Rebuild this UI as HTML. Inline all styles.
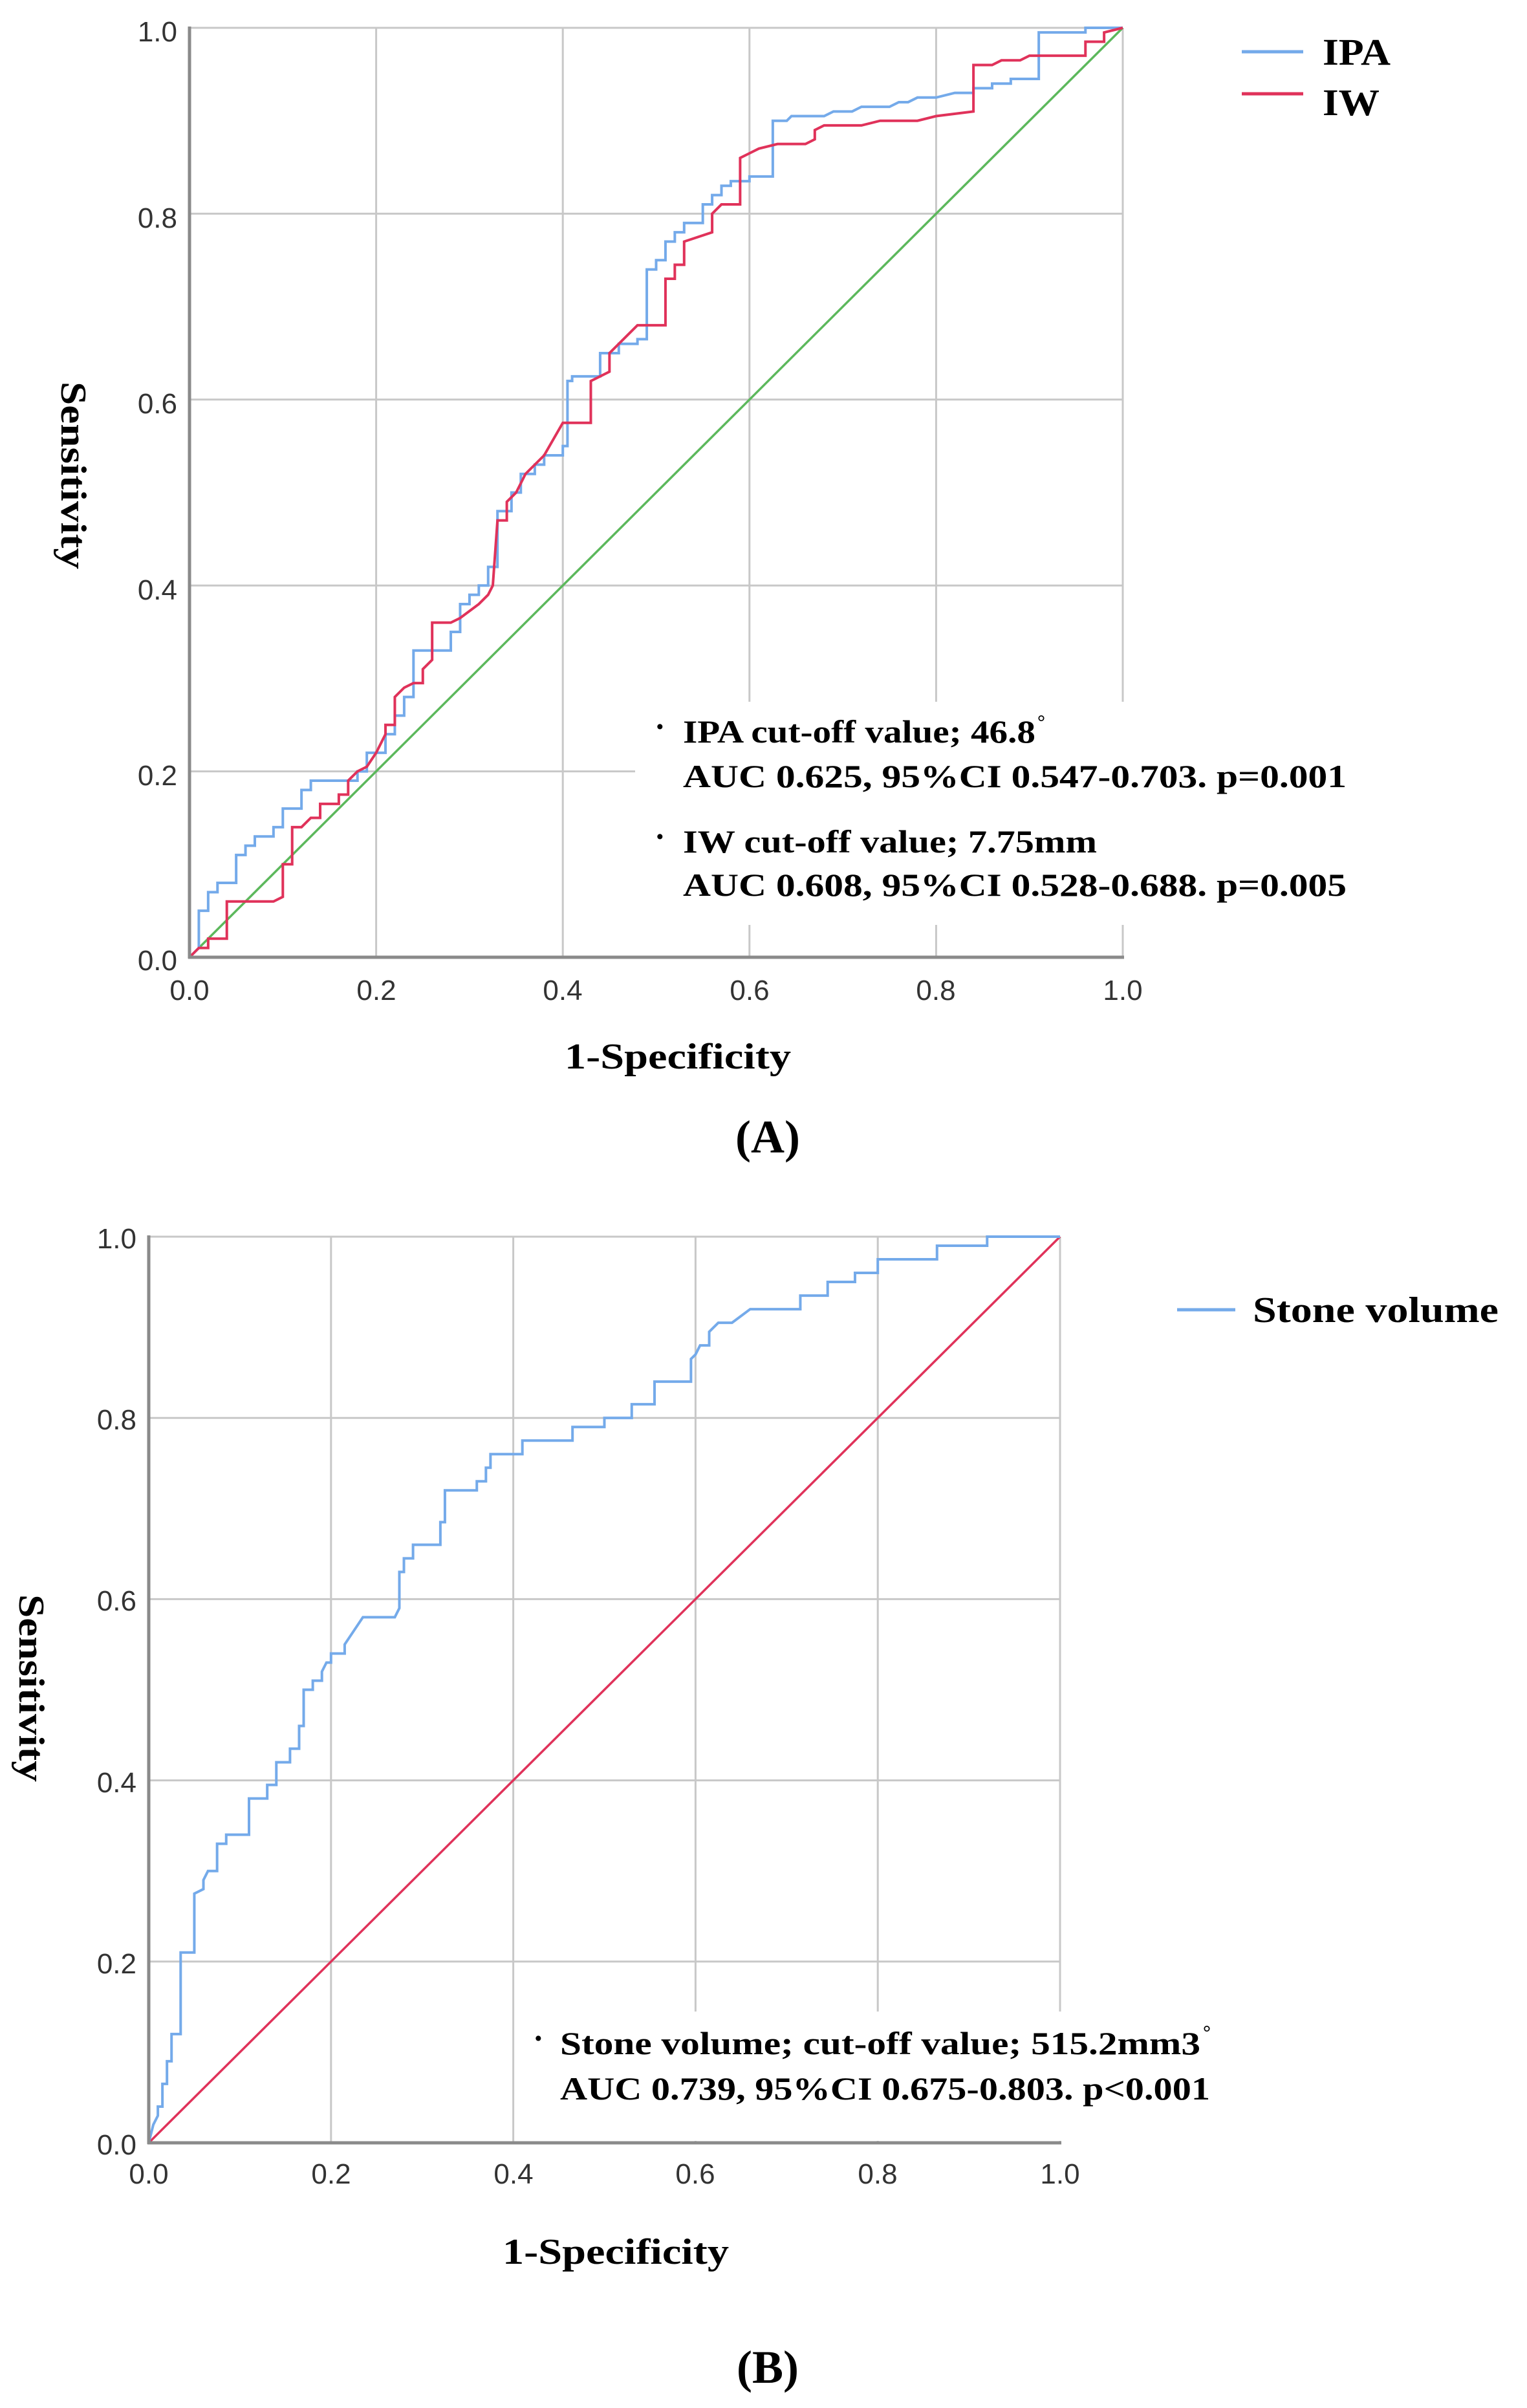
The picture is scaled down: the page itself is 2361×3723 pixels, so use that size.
<!DOCTYPE html>
<html><head><meta charset="utf-8"><style>
html,body{margin:0;padding:0;background:#fff;}
svg{display:block;}
.t{font-family:"Liberation Sans",sans-serif;font-size:44px;fill:#333;}
.s{font-family:"Liberation Serif",serif;font-weight:bold;fill:#000;}
</style></head><body>
<svg width="2361" height="3723" viewBox="0 0 2361 3723" xmlns="http://www.w3.org/2000/svg">
<rect width="2361" height="3723" fill="#fff"/>

<!-- ============ PLOT A ============ -->
<g transform="translate(293,1480) scale(1443,-1437)" fill="none">
  <g stroke="#c8c8c8" stroke-width="3">
    <line x1="0.2" y1="0" x2="0.2" y2="1" vector-effect="non-scaling-stroke"/>
    <line x1="0.4" y1="0" x2="0.4" y2="1" vector-effect="non-scaling-stroke"/>
    <line x1="0.6" y1="0" x2="0.6" y2="1" vector-effect="non-scaling-stroke"/>
    <line x1="0.8" y1="0" x2="0.8" y2="1" vector-effect="non-scaling-stroke"/>
    <line x1="1" y1="0" x2="1" y2="1" vector-effect="non-scaling-stroke"/>
    <line x1="0" y1="0.2" x2="1" y2="0.2" vector-effect="non-scaling-stroke"/>
    <line x1="0" y1="0.4" x2="1" y2="0.4" vector-effect="non-scaling-stroke"/>
    <line x1="0" y1="0.6" x2="1" y2="0.6" vector-effect="non-scaling-stroke"/>
    <line x1="0" y1="0.8" x2="1" y2="0.8" vector-effect="non-scaling-stroke"/>
    <line x1="0" y1="1" x2="1" y2="1" vector-effect="non-scaling-stroke"/>
  </g>
  <polyline stroke="#5cb85c" stroke-width="3.5" vector-effect="non-scaling-stroke" points="0,0 1,1"/>
  <polyline stroke="#74aaea" stroke-width="4" vector-effect="non-scaling-stroke" points="0,0 0.01,0.01 0.01,0.05 0.02,0.05 0.02,0.07 0.03,0.07 0.03,0.08 0.05,0.08 0.05,0.11 0.06,0.11 0.06,0.12 0.07,0.12 0.07,0.13 0.09,0.13 0.09,0.14 0.10,0.14 0.10,0.16 0.12,0.16 0.12,0.18 0.13,0.18 0.13,0.19 0.18,0.19 0.18,0.20 0.19,0.20 0.19,0.22 0.21,0.22 0.21,0.24 0.22,0.24 0.22,0.26 0.23,0.26 0.23,0.28 0.24,0.28 0.24,0.33 0.28,0.33 0.28,0.35 0.29,0.35 0.29,0.38 0.30,0.38 0.30,0.39 0.31,0.39 0.31,0.40 0.32,0.40 0.32,0.42 0.33,0.42 0.33,0.48 0.345,0.48 0.345,0.50 0.355,0.50 0.355,0.52 0.37,0.52 0.37,0.53 0.38,0.53 0.38,0.54 0.40,0.54 0.40,0.55 0.405,0.55 0.405,0.62 0.41,0.62 0.41,0.625 0.44,0.625 0.44,0.65 0.46,0.65 0.46,0.66 0.48,0.66 0.48,0.665 0.49,0.665 0.49,0.74 0.50,0.74 0.50,0.75 0.51,0.75 0.51,0.77 0.52,0.77 0.52,0.78 0.53,0.78 0.53,0.79 0.55,0.79 0.55,0.81 0.56,0.81 0.56,0.82 0.57,0.82 0.57,0.83 0.58,0.83 0.58,0.835 0.60,0.835 0.60,0.84 0.625,0.84 0.625,0.90 0.64,0.90 0.645,0.905 0.68,0.905 0.69,0.91 0.71,0.91 0.72,0.915 0.75,0.915 0.76,0.92 0.77,0.92 0.78,0.925 0.80,0.925 0.82,0.93 0.84,0.93 0.84,0.935 0.86,0.935 0.86,0.94 0.88,0.94 0.88,0.945 0.91,0.945 0.91,0.995 0.96,0.995 0.96,1 1,1"/>
  <polyline stroke="#e0325a" stroke-width="4" vector-effect="non-scaling-stroke" points="0,0 0.01,0.01 0.02,0.01 0.02,0.02 0.04,0.02 0.04,0.06 0.09,0.06 0.10,0.065 0.10,0.10 0.11,0.10 0.11,0.14 0.12,0.14 0.13,0.15 0.14,0.15 0.14,0.165 0.16,0.165 0.16,0.175 0.17,0.175 0.17,0.19 0.18,0.20 0.19,0.205 0.20,0.22 0.21,0.24 0.21,0.25 0.22,0.25 0.22,0.28 0.23,0.29 0.24,0.295 0.25,0.295 0.25,0.31 0.26,0.32 0.26,0.36 0.28,0.36 0.29,0.365 0.31,0.38 0.32,0.39 0.325,0.40 0.33,0.47 0.34,0.47 0.34,0.49 0.35,0.50 0.36,0.52 0.38,0.54 0.40,0.575 0.43,0.575 0.43,0.62 0.45,0.63 0.45,0.65 0.48,0.68 0.51,0.68 0.51,0.73 0.52,0.73 0.52,0.745 0.53,0.745 0.53,0.77 0.56,0.78 0.56,0.80 0.57,0.81 0.59,0.81 0.59,0.86 0.60,0.865 0.61,0.87 0.63,0.875 0.66,0.875 0.67,0.88 0.67,0.89 0.68,0.895 0.72,0.895 0.74,0.9 0.78,0.9 0.80,0.905 0.84,0.91 0.84,0.96 0.86,0.96 0.87,0.965 0.89,0.965 0.90,0.97 0.96,0.97 0.96,0.985 0.98,0.985 0.98,0.995 1,1"/>
</g>
<rect x="982" y="1085" width="800" height="345" fill="#fff"/>
<line x1="293" y1="41" x2="293" y2="1482" stroke="#8a8a8a" stroke-width="5"/>
<line x1="291" y1="1480" x2="1738" y2="1480" stroke="#8a8a8a" stroke-width="5"/>
<g class="t" text-anchor="end">
  <text x="274" y="64">1.0</text>
  <text x="274" y="352">0.8</text>
  <text x="274" y="639">0.6</text>
  <text x="274" y="927">0.4</text>
  <text x="274" y="1214">0.2</text>
  <text x="274" y="1500">0.0</text>
</g>
<g class="t" text-anchor="middle">
  <text x="293" y="1546">0.0</text>
  <text x="582" y="1546">0.2</text>
  <text x="870" y="1546">0.4</text>
  <text x="1159" y="1546">0.6</text>
  <text x="1447" y="1546">0.8</text>
  <text x="1736" y="1546">1.0</text>
</g>
<line x1="1920" y1="80" x2="2015" y2="80" stroke="#74aaea" stroke-width="5"/>
<line x1="1920" y1="145" x2="2015" y2="145" stroke="#e0325a" stroke-width="5"/>
<text class="s" x="2045" y="100" font-size="58" textLength="105" lengthAdjust="spacingAndGlyphs">IPA</text>
<text class="s" x="2045" y="178" font-size="58" textLength="88" lengthAdjust="spacingAndGlyphs">IW</text>
<g class="s" font-size="50">
  <text x="1012" y="1140">·</text>
  <text x="1056" y="1148" textLength="545" lengthAdjust="spacingAndGlyphs">IPA cut-off value; 46.8</text>
  <text x="1604" y="1126" font-size="30">°</text>
  <text x="1056" y="1217" textLength="1026" lengthAdjust="spacingAndGlyphs">AUC 0.625, 95%CI 0.547-0.703. p=0.001</text>
  <text x="1012" y="1310">·</text>
  <text x="1056" y="1318" textLength="640" lengthAdjust="spacingAndGlyphs">IW  cut-off value; 7.75mm</text>
  <text x="1056" y="1385" textLength="1026" lengthAdjust="spacingAndGlyphs">AUC 0.608, 95%CI 0.528-0.688. p=0.005</text>
</g>
<text class="s" x="1048" y="1652" font-size="56" text-anchor="middle" textLength="350" lengthAdjust="spacingAndGlyphs">1-Specificity</text>
<text class="s" font-size="56" text-anchor="middle" transform="translate(95,735) rotate(90)" textLength="290" lengthAdjust="spacingAndGlyphs">Sensitivity</text>
<text class="s" x="1187" y="1782" font-size="72" text-anchor="middle">(A)</text>

<!-- ============ PLOT B ============ -->
<g transform="translate(230,3313) scale(1409,-1401)" fill="none">
  <g stroke="#c8c8c8" stroke-width="3">
    <line x1="0.2" y1="0" x2="0.2" y2="1" vector-effect="non-scaling-stroke"/>
    <line x1="0.4" y1="0" x2="0.4" y2="1" vector-effect="non-scaling-stroke"/>
    <line x1="0.6" y1="0" x2="0.6" y2="1" vector-effect="non-scaling-stroke"/>
    <line x1="0.8" y1="0" x2="0.8" y2="1" vector-effect="non-scaling-stroke"/>
    <line x1="1" y1="0" x2="1" y2="1" vector-effect="non-scaling-stroke"/>
    <line x1="0" y1="0.2" x2="1" y2="0.2" vector-effect="non-scaling-stroke"/>
    <line x1="0" y1="0.4" x2="1" y2="0.4" vector-effect="non-scaling-stroke"/>
    <line x1="0" y1="0.6" x2="1" y2="0.6" vector-effect="non-scaling-stroke"/>
    <line x1="0" y1="0.8" x2="1" y2="0.8" vector-effect="non-scaling-stroke"/>
    <line x1="0" y1="1" x2="1" y2="1" vector-effect="non-scaling-stroke"/>
  </g>
</g>
<rect x="805" y="3110" width="845" height="200" fill="#fff"/>
<g transform="translate(230,3313) scale(1409,-1401)" fill="none">
  <polyline stroke="#e0325a" stroke-width="3.5" vector-effect="non-scaling-stroke" points="0,0 1,1"/>
  <polyline stroke="#74aaea" stroke-width="4" vector-effect="non-scaling-stroke" points="0,0 0.005,0.02 0.01,0.03 0.01,0.04 0.015,0.04 0.015,0.065 0.02,0.065 0.02,0.09 0.025,0.09 0.025,0.12 0.035,0.12 0.035,0.21 0.05,0.21 0.05,0.275 0.06,0.28 0.06,0.29 0.065,0.30 0.075,0.30 0.075,0.33 0.085,0.33 0.085,0.34 0.11,0.34 0.11,0.38 0.13,0.38 0.13,0.395 0.14,0.395 0.14,0.42 0.155,0.42 0.155,0.435 0.165,0.435 0.165,0.46 0.17,0.46 0.17,0.50 0.18,0.50 0.18,0.51 0.19,0.51 0.19,0.52 0.195,0.53 0.20,0.53 0.20,0.54 0.215,0.54 0.215,0.55 0.225,0.565 0.235,0.58 0.27,0.58 0.275,0.59 0.275,0.63 0.28,0.63 0.28,0.645 0.29,0.645 0.29,0.66 0.32,0.66 0.32,0.685 0.325,0.685 0.325,0.72 0.36,0.72 0.36,0.73 0.37,0.73 0.37,0.745 0.375,0.745 0.375,0.76 0.41,0.76 0.41,0.775 0.465,0.775 0.465,0.79 0.50,0.79 0.50,0.80 0.53,0.80 0.53,0.815 0.555,0.815 0.555,0.84 0.595,0.84 0.595,0.865 0.60,0.87 0.605,0.88 0.615,0.88 0.615,0.895 0.625,0.905 0.64,0.905 0.66,0.92 0.715,0.92 0.715,0.935 0.745,0.935 0.745,0.95 0.775,0.95 0.775,0.96 0.80,0.96 0.80,0.975 0.865,0.975 0.865,0.99 0.92,0.99 0.92,1 1,1"/>
</g>
<line x1="230" y1="1910" x2="230" y2="3315" stroke="#8a8a8a" stroke-width="5"/>
<line x1="228" y1="3313" x2="1641" y2="3313" stroke="#8a8a8a" stroke-width="5"/>
<g class="t" text-anchor="end">
  <text x="211" y="1930">1.0</text>
  <text x="211" y="2210">0.8</text>
  <text x="211" y="2490">0.6</text>
  <text x="211" y="2771">0.4</text>
  <text x="211" y="3051">0.2</text>
  <text x="211" y="3331">0.0</text>
</g>
<g class="t" text-anchor="middle">
  <text x="230" y="3376">0.0</text>
  <text x="512" y="3376">0.2</text>
  <text x="794" y="3376">0.4</text>
  <text x="1075" y="3376">0.6</text>
  <text x="1357" y="3376">0.8</text>
  <text x="1639" y="3376">1.0</text>
</g>
<line x1="1820" y1="2025" x2="1910" y2="2025" stroke="#74aaea" stroke-width="5"/>
<text class="s" x="1937" y="2044" font-size="56" textLength="380" lengthAdjust="spacingAndGlyphs">Stone volume</text>
<g class="s" font-size="50">
  <text x="824" y="3168">·</text>
  <text x="866" y="3176" textLength="990" lengthAdjust="spacingAndGlyphs">Stone volume;  cut-off value; 515.2mm3</text>
  <text x="1860" y="3152" font-size="30">°</text>
  <text x="866" y="3246" textLength="1005" lengthAdjust="spacingAndGlyphs">AUC 0.739, 95%CI 0.675-0.803. p&lt;0.001</text>
</g>
<text class="s" x="952" y="3500" font-size="56" text-anchor="middle" textLength="350" lengthAdjust="spacingAndGlyphs">1-Specificity</text>
<text class="s" font-size="56" text-anchor="middle" transform="translate(30,2610) rotate(90)" textLength="290" lengthAdjust="spacingAndGlyphs">Sensitivity</text>
<text class="s" x="1187" y="3684" font-size="72" text-anchor="middle">(B)</text>
</svg>
</body></html>
